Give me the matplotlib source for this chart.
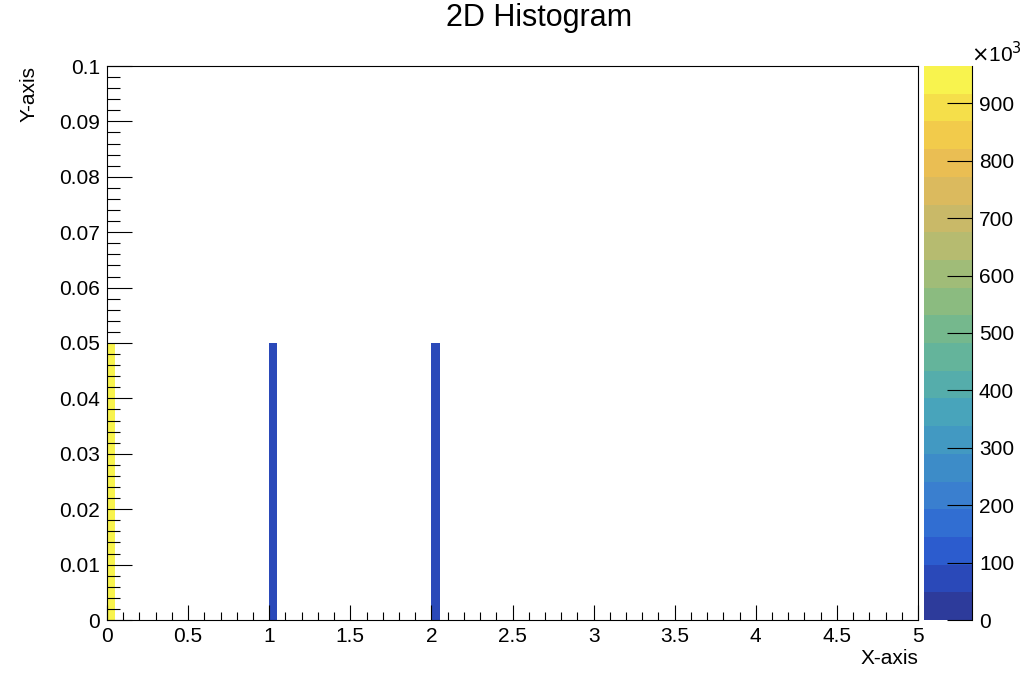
import numpy as np
import matplotlib
matplotlib.use("Agg")
import matplotlib.pyplot as plt
from matplotlib.colors import ListedColormap, BoundaryNorm
from matplotlib.ticker import MultipleLocator, FuncFormatter

plt.rcParams['font.family'] = ['Liberation Sans', 'DejaVu Sans']

# histogram binning
x_edges = np.linspace(0, 5, 101)
y_edges = np.linspace(0, 0.1, 21)

# filled bins: lower x edge of the column, upper y of the filling, content
fill_x = [0.0, 1.0, 2.0]
fill_ytop = [0.05, 0.05, 0.05]
fill_counts = [965000, 60000, 60000]

z_max = 965000
n_levels = 20
cbar_ticks = [0, 100, 200, 300, 400, 500, 600, 700, 800, 900]

# palette (bottom -> top)
band_colors = ['#2d3b9b', '#2a49b9', '#2c5cce', '#316ed2', '#3a7fcf',
               '#3d8cc8', '#4299c2', '#48a4bb', '#55adab', '#64b49b',
               '#75b88d', '#8bbb80', '#a0bc78', '#b6bb70', '#c9b968',
               '#dbba5e', '#eabe53', '#f2cb4b', '#f5df4a', '#f8f34e']

H = np.zeros((len(y_edges) - 1, len(x_edges) - 1))
for xl, yt, c in zip(fill_x, fill_ytop, fill_counts):
    ix = np.searchsorted(x_edges, xl + 1e-9) - 1
    iy = np.searchsorted(y_edges, yt - 1e-9)
    H[:iy, ix] = c
H = np.ma.masked_equal(H, 0)

cmap = ListedColormap(band_colors)
norm = BoundaryNorm(np.linspace(0, z_max, n_levels + 1), n_levels)

fig = plt.figure(figsize=(10.35, 6.82), dpi=100)
ax = fig.add_axes([107 / 1035, 62 / 682, 811 / 1035, 554 / 682])
cax = fig.add_axes([924 / 1035, 62 / 682, 48 / 1035, 554 / 682])

mesh = ax.pcolormesh(x_edges, y_edges, H, cmap=cmap, norm=norm)
ax.set_xlim(0, 5)
ax.set_ylim(0, 0.1)

fmt = FuncFormatter(lambda v, p: '%g' % round(v, 4))
ax.xaxis.set_major_locator(MultipleLocator(0.5))
ax.xaxis.set_minor_locator(MultipleLocator(0.1))
ax.yaxis.set_major_locator(MultipleLocator(0.01))
ax.yaxis.set_minor_locator(MultipleLocator(0.002))
ax.xaxis.set_major_formatter(fmt)
ax.yaxis.set_major_formatter(fmt)
ax.tick_params(axis='x', which='major', direction='in', length=11, width=0.8,
               labelsize=15, pad=5)
ax.tick_params(axis='x', which='minor', direction='in', length=5.5, width=0.8)
ax.tick_params(axis='y', which='major', direction='in', length=18, width=0.8,
               labelsize=15, pad=5)
ax.tick_params(axis='y', which='minor', direction='in', length=9, width=0.8)
for s in ax.spines.values():
    s.set_linewidth(0.8)

fig.text(539 / 1035, 1 - 18 / 682, '2D Histogram', fontsize=22,
         ha='center', va='center')
ax.set_xlabel('X-axis', fontsize=15, loc='right')
ax.xaxis.set_label_coords(1.0, -0.052)
ax.set_ylabel('Y-axis', fontsize=15, loc='top')
ax.yaxis.set_label_coords(-0.085, 1.0)

cb = fig.colorbar(mesh, cax=cax)
cb.outline.set_visible(False)
cb.set_ticks([t * 1000 for t in cbar_ticks])
cb.set_ticklabels([str(t) for t in cbar_ticks])
cax.tick_params(axis='y', which='both', direction='in', length=18, width=0.8,
                labelsize=15, pad=5, right=True)
cax.minorticks_off()
cax.plot([1, 1], [0, 1], transform=cax.transAxes, color='k', lw=0.8,
         clip_on=False)
cax.text(0.98, 1.0, r'$\times$10$^3$', transform=cax.transAxes, fontsize=15,
         ha='left', va='bottom')

fig.savefig('out.png', dpi=100)
